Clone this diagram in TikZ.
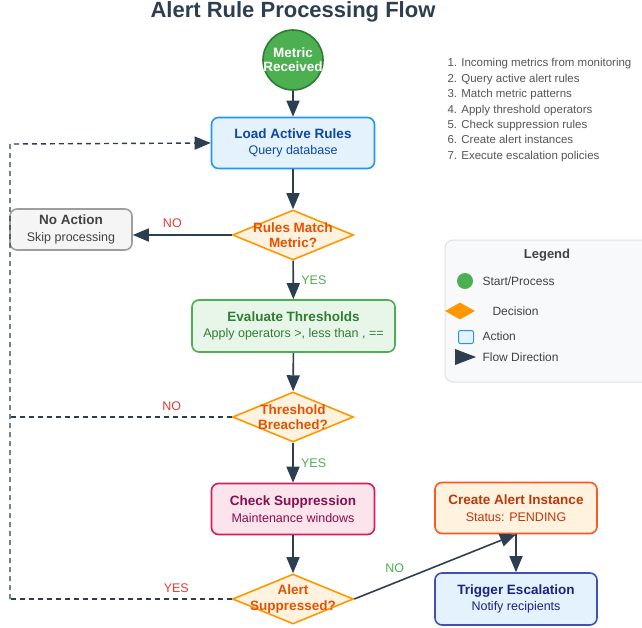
\documentclass[tikz,border=0pt]{standalone}
\usepackage{fontspec}
\setmainfont{Liberation Sans}
\usetikzlibrary{arrows.meta,shapes.geometric}

\definecolor{arrowc}{HTML}{2C3E50}
\definecolor{startfill}{HTML}{4CAF50}
\definecolor{startline}{HTML}{2E7D32}
\definecolor{loadfill}{HTML}{E3F2FD}
\definecolor{loadline}{HTML}{2196F3}
\definecolor{loadtext}{HTML}{0D47A1}
\definecolor{decfill}{HTML}{FFF3E0}
\definecolor{decline}{HTML}{FF9800}
\definecolor{dectext}{HTML}{E65100}
\definecolor{nofill}{HTML}{F5F5F5}
\definecolor{noline}{HTML}{9E9E9E}
\definecolor{notext}{HTML}{424242}
\definecolor{evalfill}{HTML}{E8F5E9}
\definecolor{evaltext}{HTML}{2E7D32}
\definecolor{supfill}{HTML}{FCE4EC}
\definecolor{supline}{HTML}{D81B60}
\definecolor{suptext}{HTML}{880E4F}
\definecolor{crline}{HTML}{FF5722}
\definecolor{crtext}{HTML}{BF360C}
\definecolor{trigline}{HTML}{3F51B5}
\definecolor{trigtext}{HTML}{1A237E}
\definecolor{nored}{HTML}{E53935}
\definecolor{yesgreen}{HTML}{4CAF50}
\definecolor{notegray}{HTML}{555555}
\definecolor{legfill}{HTML}{F8F9FA}
\definecolor{legline}{HTML}{E0E0E0}

\begin{document}
\begin{tikzpicture}[x=1pt,y=-1pt,
  flow/.style={draw=arrowc, line width=1.6pt, -{Triangle[length=16pt,width=13pt]}},
  loopline/.style={draw=arrowc, line width=1.4pt, dash pattern=on 5pt off 4pt},
  actbox/.style={rectangle, rounded corners=7pt, line width=1.6pt, minimum width=163pt,
    minimum height=51pt, align=center, font=\fontsize{12.5}{16.5}\selectfont},
  decision/.style={diamond, draw=decline, fill=decfill, line width=1.6pt,
    minimum width=121pt, minimum height=50pt, inner sep=0pt},
  dectxt/.style={text=dectext, font=\fontsize{13.5}{15.5}\selectfont\bfseries, align=center},
  nolabel/.style={text=nored, font=\fontsize{12.5}{14}\selectfont},
  yeslabel/.style={text=yesgreen, font=\fontsize{12.5}{14}\selectfont},
  legtext/.style={anchor=west, text=notext, font=\fontsize{12}{14}\selectfont}]

\useasboundingbox (0,0) rectangle (642,627);

% Title
\node[font=\fontsize{22}{26}\selectfont\bfseries, text=arrowc] (title) at (293,11.5) {Alert Rule Processing Flow};

% Start node
\node[circle, draw=startline, fill=startfill, line width=1.6pt, minimum size=60pt, inner sep=-5pt,
  text=white, font=\fontsize{13.5}{14}\selectfont\bfseries, align=center] (metric) at (293,60) {Metric\\Received};

% Main flow
\node[actbox, draw=loadline, fill=loadfill, text=loadtext] (load) at (293,143)
  {\textbf{\fontsize{13.5}{16}\selectfont Load Active Rules}\\Query database};
\node[decision, label={[dectxt]center:Rules Match\\Metric?}] (match) at (293,235) {};
\node[actbox, draw=noline, fill=nofill, text=notext, minimum width=122pt, minimum height=41pt] (noact) at (71,229.5)
  {\textbf{\fontsize{13.5}{16}\selectfont No Action}\\Skip processing};
\node[actbox, draw=startfill, fill=evalfill, text=evaltext, minimum width=203pt, minimum height=52pt] (eval) at (293.5,326)
  {\textbf{\fontsize{13.5}{16}\selectfont Evaluate Thresholds}\\Apply operators >, less than , ==};
\node[decision, label={[dectxt]center:Threshold\\Breached?}] (breach) at (293,417) {};
\node[actbox, draw=supline, fill=supfill, text=suptext] (suppr) at (293,509)
  {\textbf{\fontsize{13.5}{16}\selectfont Check Suppression}\\Maintenance windows};
\node[decision, label={[dectxt]center:Alert\\Suppressed?}] (supq) at (293,599) {};
\node[actbox, draw=crline, fill=decfill, text=crtext, minimum width=162pt] (create) at (516,508)
  {\textbf{\fontsize{13.5}{16}\selectfont Create Alert Instance}\\Status: PENDING};
\node[actbox, draw=trigline, fill=loadfill, text=trigtext, minimum width=162pt, minimum height=52pt] (trigger) at (516,599)
  {\textbf{\fontsize{13.5}{16}\selectfont Trigger Escalation}\\Notify recipients};

% Loop-back line
\coordinate (looptop) at (10,144);
\coordinate (loopmid) at (10,417);
\coordinate (loopbot) at (10,599);

% Connectors
\draw[flow] (metric) -- (load);
\draw[flow] (load) -- (match);
\draw[flow] (match.west) -- (match.west -| noact.east) node[nolabel, pos=0.6, above=3pt] {NO};
\draw[flow] (match) -- (eval) node[yeslabel, midway, right=4pt] {YES};
\draw[flow] (eval) -- (breach);
\draw[flow] (breach) -- (suppr) node[yeslabel, midway, right=4pt] {YES};
\draw[flow] (suppr) -- (supq);
\draw[flow] (supq.east) -- (create.south) node[yeslabel, pos=0.25, above=6pt] {NO};
\draw[flow] (create) -- (trigger);
\draw[loopline] (breach.west) -- (loopmid) node[nolabel, pos=0.27, above=2pt] {NO};
\draw[loopline] (supq.west) -- (loopbot) node[nolabel, pos=0.25, above=2pt] {YES};
\draw[loopline, -{Triangle[length=16pt,width=13pt]}] (loopbot) -- (looptop) -- (load.west);

% Notes
\node[anchor=north west, align=left, text=notegray, font=\fontsize{11.5}{15.4}\selectfont] (notes) at (444,55)
  {1. Incoming metrics from monitoring\\2. Query active alert rules\\3. Match metric patterns\\
   4. Apply threshold operators\\5. Check suppression rules\\6. Create alert instances\\7. Execute escalation policies};

% Legend
\draw[rounded corners=8pt, draw=legline, fill=legfill, line width=1pt] (445,240) rectangle (660,382);
\node[text=notext, font=\fontsize{13}{15}\selectfont\bfseries] (legtitle) at (547,255) {Legend};
\node[circle, fill=startfill, minimum size=16pt, inner sep=0pt] (lgstart) at (465,281) {};
\node[legtext] (lgstarttxt) at (479,281) {Start/Process};
\node[diamond, fill=decline, minimum width=30pt, minimum height=17pt, inner sep=0pt] (lgdec) at (460,311) {};
\node[legtext] (lgdectxt) at (489,311) {Decision};
\node[rectangle, rounded corners=2pt, draw=loadline, fill=loadfill, line width=1pt,
  minimum width=15pt, minimum height=13pt, inner sep=0pt] (lgact) at (466,337) {};
\node[legtext] (lgacttxt) at (479,336) {Action};
\fill[arrowc] (455,349) -- (476,357) -- (455,365) -- cycle;
\node[legtext] (lgflowtxt) at (479,357) {Flow Direction};

\end{tikzpicture}
\end{document}
